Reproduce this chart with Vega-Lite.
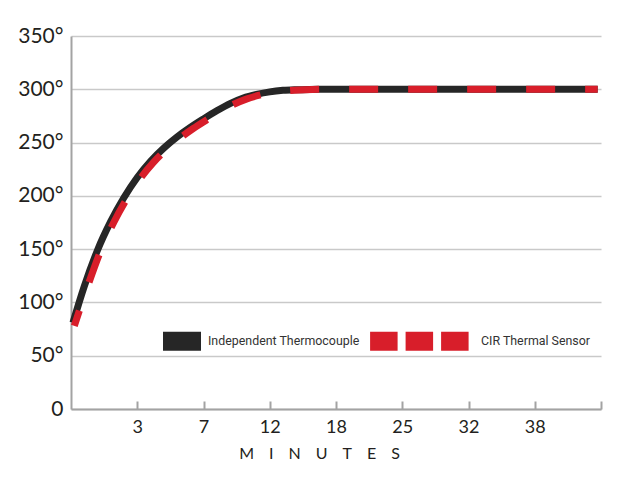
{
  "$schema": "https://vega.github.io/schema/vega-lite/v6.json",
  "width": 530,
  "height": 373,
  "autosize": {"type": "none"},
  "padding": {"left": 71, "top": 36, "right": 29, "bottom": 69},
  "background": "white",
  "config": {"view": {"stroke": null}},
  "data": {
    "values": [
      {"series": "Independent Thermocouple", "i": 0.03, "temp": 81},
      {"series": "Independent Thermocouple", "i": 0.2, "temp": 115},
      {"series": "Independent Thermocouple", "i": 0.4, "temp": 149},
      {"series": "Independent Thermocouple", "i": 0.6, "temp": 176},
      {"series": "Independent Thermocouple", "i": 0.8, "temp": 198.4},
      {"series": "Independent Thermocouple", "i": 1.0, "temp": 217.2},
      {"series": "Independent Thermocouple", "i": 1.2, "temp": 232.4},
      {"series": "Independent Thermocouple", "i": 1.4, "temp": 244.8},
      {"series": "Independent Thermocouple", "i": 1.6, "temp": 255.2},
      {"series": "Independent Thermocouple", "i": 1.8, "temp": 264.2},
      {"series": "Independent Thermocouple", "i": 2.0, "temp": 272.2},
      {"series": "Independent Thermocouple", "i": 2.2, "temp": 279.8},
      {"series": "Independent Thermocouple", "i": 2.4, "temp": 286.6},
      {"series": "Independent Thermocouple", "i": 2.6, "temp": 291.8},
      {"series": "Independent Thermocouple", "i": 2.8, "temp": 295.2},
      {"series": "Independent Thermocouple", "i": 3.0, "temp": 297.6},
      {"series": "Independent Thermocouple", "i": 3.2, "temp": 299},
      {"series": "Independent Thermocouple", "i": 3.4, "temp": 299.6},
      {"series": "Independent Thermocouple", "i": 3.6, "temp": 299.9},
      {"series": "Independent Thermocouple", "i": 3.8, "temp": 300},
      {"series": "Independent Thermocouple", "i": 7.95, "temp": 300},
      {"series": "CIR Thermal Sensor", "i": 0.05, "temp": 78},
      {"series": "CIR Thermal Sensor", "i": 0.245, "temp": 114},
      {"series": "CIR Thermal Sensor", "i": 0.445, "temp": 148},
      {"series": "CIR Thermal Sensor", "i": 0.645, "temp": 175},
      {"series": "CIR Thermal Sensor", "i": 0.845, "temp": 197.4},
      {"series": "CIR Thermal Sensor", "i": 1.045, "temp": 216.2},
      {"series": "CIR Thermal Sensor", "i": 1.245, "temp": 231.4},
      {"series": "CIR Thermal Sensor", "i": 1.445, "temp": 243.8},
      {"series": "CIR Thermal Sensor", "i": 1.645, "temp": 254.2},
      {"series": "CIR Thermal Sensor", "i": 1.845, "temp": 263.2},
      {"series": "CIR Thermal Sensor", "i": 2.045, "temp": 271.2},
      {"series": "CIR Thermal Sensor", "i": 2.245, "temp": 278.8},
      {"series": "CIR Thermal Sensor", "i": 2.445, "temp": 285.6},
      {"series": "CIR Thermal Sensor", "i": 2.645, "temp": 290.8},
      {"series": "CIR Thermal Sensor", "i": 2.845, "temp": 294.5},
      {"series": "CIR Thermal Sensor", "i": 3.045, "temp": 297},
      {"series": "CIR Thermal Sensor", "i": 3.245, "temp": 298.6},
      {"series": "CIR Thermal Sensor", "i": 3.445, "temp": 299.4},
      {"series": "CIR Thermal Sensor", "i": 3.645, "temp": 299.8},
      {"series": "CIR Thermal Sensor", "i": 3.845, "temp": 300},
      {"series": "CIR Thermal Sensor", "i": 7.95, "temp": 300}
    ]
  },
  "encoding": {
    "x": {
      "field": "i",
      "type": "quantitative",
      "scale": {"domain": [0, 8], "nice": false, "zero": false},
      "axis": {
        "values": [1, 2, 3, 4, 5, 6, 7, 8],
        "labelExpr": "['', '3', '7', '12', '18', '25', '32', '38', ''][datum.value]",
        "grid": false,
        "domainColor": "#a3a3a3",
        "domainWidth": 2,
        "tickColor": "#a3a3a3",
        "tickWidth": 2,
        "tickSize": -8,
        "labelPadding": 17,
        "labelFont": "Lato",
        "labelFontSize": 18,
        "labelColor": "#231f20",
        "labelBaseline": "top",
        "title": "M\u2003\u2009\u200aI\u2003\u2009\u200aN\u2003\u2009\u200aU\u2003\u2009\u200aT\u2003\u2009\u200aE\u2003\u2009\u200aS",
        "titleFont": "Lato",
        "titleFontSize": 16,
        "titleFontWeight": "normal",
        "titleColor": "#231f20",
        "titleX": 248,
        "titleY": 44,
        "titleAlign": "center",
        "titleBaseline": "middle"
      }
    },
    "y": {
      "field": "temp",
      "type": "quantitative",
      "scale": {"domain": [0, 350], "nice": false},
      "axis": {
        "values": [0, 50, 100, 150, 200, 250, 300, 350],
        "labelExpr": "datum.value === 0 ? '0' : datum.value + '°'",
        "grid": true,
        "gridColor": "#c9c9c9",
        "gridWidth": 1.5,
        "domainColor": "#a3a3a3",
        "domainWidth": 2,
        "ticks": false,
        "labelPadding": 8,
        "labelFont": "Lato",
        "labelFontSize": 21,
        "labelColor": "#231f20",
        "title": null
      }
    },
    "color": {
      "field": "series",
      "type": "nominal",
      "scale": {
        "domain": ["Independent Thermocouple", "CIR Thermal Sensor"],
        "range": ["#262626", "#d81e2a"]
      },
      "legend": {
        "title": null,
        "orient": "none",
        "direction": "horizontal",
        "legendX": 111,
        "legendY": 295,
        "padding": 0,
        "symbolSize": 400,
        "labelOffset": 6,
        "columnPadding": 10,
        "labelLimit": 300,
        "labelFont": "Roboto",
        "labelFontSize": 12.4,
        "labelColor": "#333333",
        "encode": {
          "symbols": {
            "update": {
              "shape": {"signal": "datum.value === 'CIR Thermal Sensor' ? 'M-9.49,-0.95H-6.74V0.95H-9.49Z M-5.94,-0.95H-3.19V0.95H-5.94Z M-2.39,-0.95H0.36V0.95H-2.39Z' : 'M-2.9,-0.95H0.9V0.95H-2.9Z'"},
              "fill": {"signal": "datum.value === 'CIR Thermal Sensor' ? '#d81e2a' : '#262626'"},
              "strokeWidth": {"value": 0},
              "opacity": {"value": 1}
            }
          }
        }
      }
    }
  },
  "layer": [
    {
      "transform": [{"filter": "datum.series === 'Independent Thermocouple'"}],
      "mark": {"type": "line", "strokeWidth": 7, "interpolate": "monotone"}
    },
    {
      "transform": [{"filter": "datum.series === 'CIR Thermal Sensor'"}],
      "mark": {"type": "line", "strokeWidth": 7, "interpolate": "monotone", "strokeDash": [29, 30], "strokeDashOffset": 13, "strokeCap": "butt"}
    }
  ]
}
